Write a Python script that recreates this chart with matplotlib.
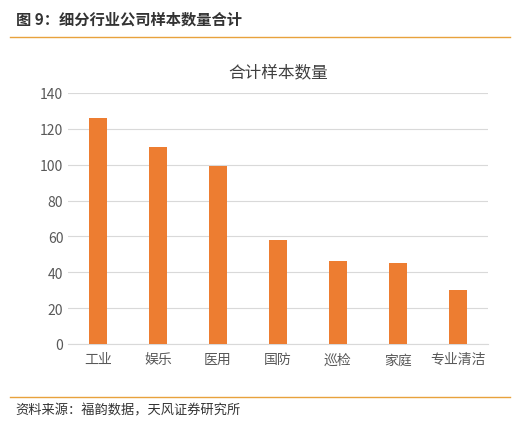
import matplotlib
matplotlib.use("Agg")
import matplotlib.pyplot as plt
from matplotlib.lines import Line2D

plt.rcParams['font.family'] = ['Noto Sans CJK SC', 'DejaVu Sans']

categories = ['工业', '娱乐', '医用', '国防', '巡检', '家庭', '专业清洁']
values = [126, 110, 99, 58, 46, 45, 30]
yticks = [0, 20, 40, 60, 80, 100, 120, 140]

fig = plt.figure(figsize=(5.2, 4.35), dpi=100)
ax = fig.add_axes([0.131, 0.207, 0.807, 0.577])
ax.bar(range(len(categories)), values, width=0.3, color='#ED7D31', zorder=3)
ax.set_ylim(0, 140)
ax.set_xlim(-0.5, len(categories) - 0.5)
ax.set_yticks(yticks)
ax.set_xticks(range(len(categories)))
ax.set_xticklabels(categories)
ax.grid(axis='y', color='#D9D9D9', linewidth=0.8, zorder=0)
for s in ['top', 'right', 'left']:
    ax.spines[s].set_visible(False)
ax.spines['bottom'].set_color('#D9D9D9')
ax.tick_params(length=0, colors='#595959', labelsize=10)
ax.tick_params(axis='x', pad=6)
ax.set_title('合计样本数量', fontsize=12, color='#404040', pad=12)

fig.text(0.03, 0.955, '图 9：细分行业公司样本数量合计', fontsize=11, fontweight='bold', color='#333333', va='center')
fig.add_artist(Line2D([0.02, 0.98], [0.912, 0.912], color='#E8A23C', linewidth=1))
fig.add_artist(Line2D([0.02, 0.98], [0.085, 0.085], color='#E8A23C', linewidth=1))
fig.text(0.03, 0.055, '资料来源：福韵数据，天风证券研究所', fontsize=9.5, color='#333333', va='center')

fig.savefig('out.png', dpi=100, facecolor='white')
